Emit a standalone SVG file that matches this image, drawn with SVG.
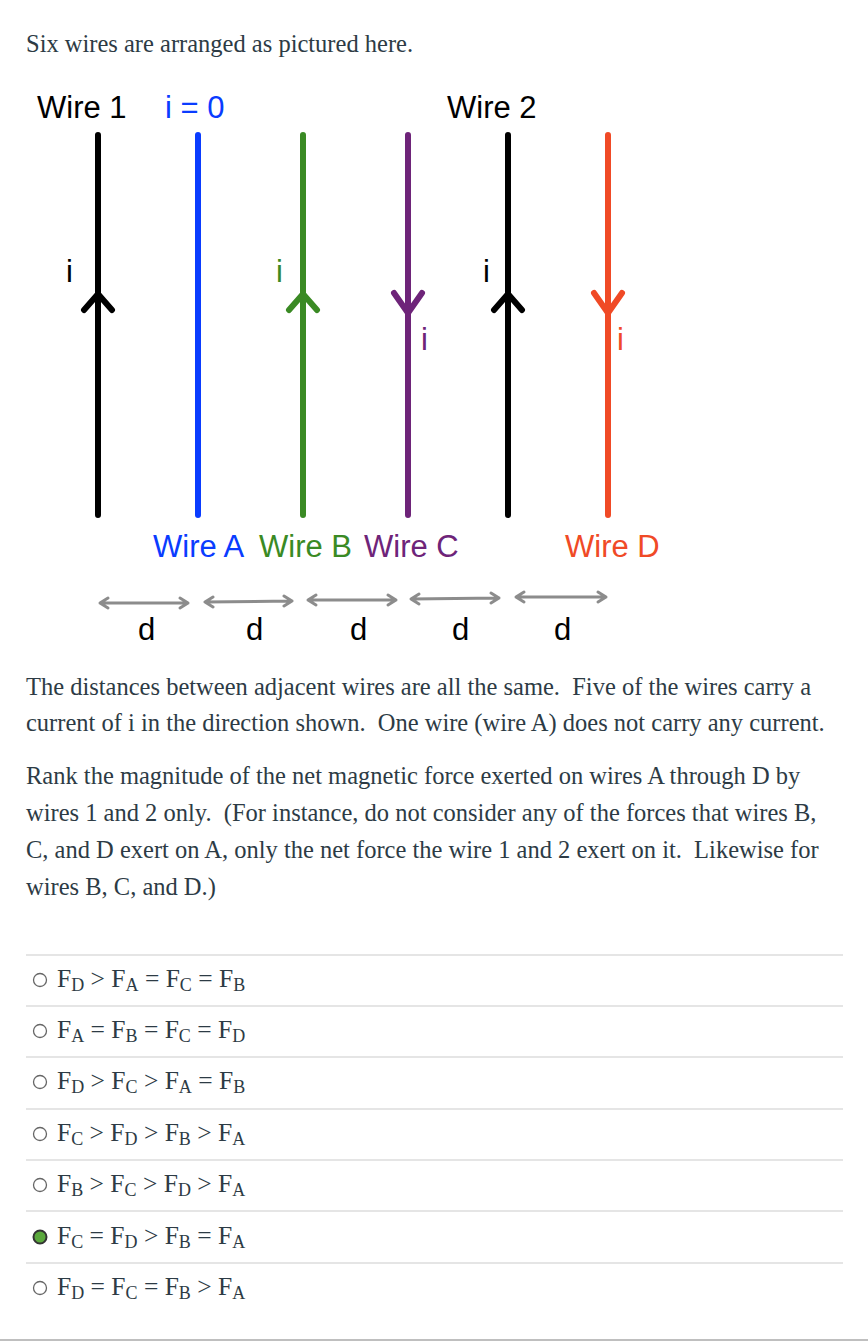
<svg xmlns="http://www.w3.org/2000/svg" width="868" height="1344" viewBox="0 0 868 1344" xml:space="preserve">
<style>
.p{font-family:"Liberation Serif",serif;font-size:24.5px;fill:#2d3b45;white-space:pre}
.s{font-family:"Liberation Sans",sans-serif;font-size:31px}
.o{font-family:"Liberation Serif",serif;font-size:25.5px;fill:#2d3b45}
.sub{font-size:18px}
.w{stroke-width:6;fill:none;stroke-linecap:round;stroke-linejoin:round}
.sep{stroke:#ddd;stroke-width:1.5}
.r{fill:#fff;stroke:#666;stroke-width:1.3}
.dl{stroke:#8c8c8c;stroke-width:3;fill:none;stroke-linecap:round;stroke-linejoin:round}
</style>
<rect width="868" height="1344" fill="#fff"/>
<text class="p" x="26" y="52">Six wires are arranged as pictured here.</text>
<g id="labels-top">
<text class="s" x="37" y="118">Wire 1</text>
<text class="s" x="165" y="118" fill="#0a3cff">i = 0</text>
<text class="s" x="447" y="118">Wire 2</text>
</g>
<g id="wire1"><path class="w" stroke="#000" d="M98 135V515M84 310L98 294L112 310"/><text class="s" x="66" y="282">i</text></g>
<g id="wireA"><path class="w" stroke="#0a3cff" d="M198 135V515"/></g>
<g id="wireB"><path class="w" stroke="#3a8a24" d="M303 135V515M289 310L303 294L317 310"/><text class="s" x="276" y="282" fill="#3a8a24">i</text></g>
<g id="wireC"><path class="w" stroke="#6e2479" d="M408 135V515M394 293L408 313L422 293"/><text class="s" x="421" y="350" fill="#6e2479">i</text></g>
<g id="wire2"><path class="w" stroke="#000" d="M508 135V515M494 310L508 294L522 310"/><text class="s" x="483" y="282">i</text></g>
<g id="wireD"><path class="w" stroke="#f04a26" d="M608 135V515M594 293L608 313L622 293"/><text class="s" x="617" y="350" fill="#f04a26">i</text></g>
<g id="labels-bottom" class="s">
<text x="153" y="557" fill="#0a3cff">Wire A</text>
<text x="259" y="557" fill="#3a8a24">Wire B</text>
<text x="364" y="557" fill="#6e2479">Wire C</text>
<text x="565" y="557" fill="#f04a26">Wire D</text>
</g>
<g id="connectors">
<path class="dl" d="M100 603L188 603M108 598L100 603L108 608M180 598L188 603L180 608"/>
<path class="dl" d="M205 602L292 601M213 597L205 602L213 607M284 596L292 601L284 606"/>
<path class="dl" d="M308 600L396 600M316 595L308 600L316 605M388 595L396 600L388 605"/>
<path class="dl" d="M411 599L499 598M419 594L411 599L419 604M491 593L499 598L491 603"/>
<path class="dl" d="M516 597L606 597M524 592L516 597L524 602M598 592L606 597L598 602"/>
</g>
<g class="s"><text x="138" y="640">d</text><text x="246" y="640">d</text><text x="350" y="640">d</text><text x="452" y="640">d</text><text x="554" y="640">d</text></g>
<text class="p" x="26" y="695">The distances between adjacent wires are all the same.  Five of the wires carry a</text>
<text class="p" x="26" y="731">current of i in the direction shown.  One wire (wire A) does not carry any current.</text>
<text class="p" x="26" y="784">Rank the magnitude of the net magnetic force exerted on wires A through D by</text>
<text class="p" x="26" y="821">wires 1 and 2 only.  (For instance, do not consider any of the forces that wires B,</text>
<text class="p" x="26" y="858">C, and D exert on A, only the net force the wire 1 and 2 exert on it.  Likewise for</text>
<text class="p" x="26" y="895">wires B, C, and D.)</text>
<g id="options">
<line class="sep" x1="26" y1="955" x2="843" y2="955"/>
<line class="sep" x1="26" y1="1006" x2="843" y2="1006"/>
<line class="sep" x1="26" y1="1057" x2="843" y2="1057"/>
<line class="sep" x1="26" y1="1109" x2="843" y2="1109"/>
<line class="sep" x1="26" y1="1160" x2="843" y2="1160"/>
<line class="sep" x1="26" y1="1211" x2="843" y2="1211"/>
<line class="sep" x1="26" y1="1263" x2="843" y2="1263"/>
<line x1="0" y1="1340" x2="868" y2="1340" stroke="#aaa" stroke-width="1.5"/>
<circle class="r" cx="40" cy="980" r="6.5"/><circle class="r" cx="40" cy="1031" r="6.5"/><circle class="r" cx="40" cy="1082" r="6.5"/><circle class="r" cx="40" cy="1134" r="6.5"/><circle class="r" cx="40" cy="1185" r="6.5"/>
<circle cx="40" cy="1237" r="6.5" fill="#5aa83c" stroke="#333" stroke-width="2"/>
<circle class="r" cx="40" cy="1288" r="6.5"/>
<text class="o" x="57" y="987">F<tspan class="sub" dy="4">D</tspan><tspan dy="-4"> &gt; F</tspan><tspan class="sub" dy="4">A</tspan><tspan dy="-4"> = F</tspan><tspan class="sub" dy="4">C</tspan><tspan dy="-4"> = F</tspan><tspan class="sub" dy="4">B</tspan></text>
<text class="o" x="57" y="1038">F<tspan class="sub" dy="4">A</tspan><tspan dy="-4"> = F</tspan><tspan class="sub" dy="4">B</tspan><tspan dy="-4"> = F</tspan><tspan class="sub" dy="4">C</tspan><tspan dy="-4"> = F</tspan><tspan class="sub" dy="4">D</tspan></text>
<text class="o" x="57" y="1089">F<tspan class="sub" dy="4">D</tspan><tspan dy="-4"> &gt; F</tspan><tspan class="sub" dy="4">C</tspan><tspan dy="-4"> &gt; F</tspan><tspan class="sub" dy="4">A</tspan><tspan dy="-4"> = F</tspan><tspan class="sub" dy="4">B</tspan></text>
<text class="o" x="57" y="1141">F<tspan class="sub" dy="4">C</tspan><tspan dy="-4"> &gt; F</tspan><tspan class="sub" dy="4">D</tspan><tspan dy="-4"> &gt; F</tspan><tspan class="sub" dy="4">B</tspan><tspan dy="-4"> &gt; F</tspan><tspan class="sub" dy="4">A</tspan></text>
<text class="o" x="57" y="1192">F<tspan class="sub" dy="4">B</tspan><tspan dy="-4"> &gt; F</tspan><tspan class="sub" dy="4">C</tspan><tspan dy="-4"> &gt; F</tspan><tspan class="sub" dy="4">D</tspan><tspan dy="-4"> &gt; F</tspan><tspan class="sub" dy="4">A</tspan></text>
<text class="o" x="57" y="1244">F<tspan class="sub" dy="4">C</tspan><tspan dy="-4"> = F</tspan><tspan class="sub" dy="4">D</tspan><tspan dy="-4"> &gt; F</tspan><tspan class="sub" dy="4">B</tspan><tspan dy="-4"> = F</tspan><tspan class="sub" dy="4">A</tspan></text>
<text class="o" x="57" y="1295">F<tspan class="sub" dy="4">D</tspan><tspan dy="-4"> = F</tspan><tspan class="sub" dy="4">C</tspan><tspan dy="-4"> = F</tspan><tspan class="sub" dy="4">B</tspan><tspan dy="-4"> &gt; F</tspan><tspan class="sub" dy="4">A</tspan></text>
</g>
</svg>
